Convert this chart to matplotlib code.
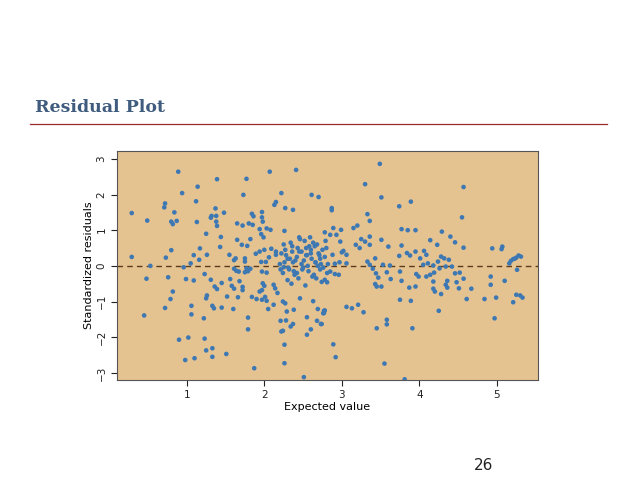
import matplotlib
matplotlib.use('Agg')
import matplotlib.pyplot as plt
import numpy as np

# residuals (expected value, standardized residual)
expected = [
    0.89, 0.29, 0.29, 0.49, 0.53, 0.48, 0.45, 0.71, 0.72, 0.84, 0.80, 0.82, 0.87, 0.94, 1.14, 1.12, 1.13,
    0.73, 0.80, 0.76, 0.82, 0.79, 0.72, 0.96, 0.99, 1.05, 1.09, 1.09, 1.16, 1.17, 1.25, 1.26, 1.06, 1.06,
    1.22, 0.90, 1.02, 1.23, 0.98, 1.10, 1.25, 1.33, 1.33, 1.51, 1.39, 1.37, 1.38, 1.32, 1.31, 1.38, 1.39,
    1.48, 1.44, 1.43, 1.23, 1.26, 1.25, 1.31, 1.36, 1.39, 1.45, 1.33, 1.35, 1.45, 1.52, 1.60, 1.66,
    1.55, 1.61, 1.63, 1.61, 1.64, 1.67, 1.75, 1.79, 1.82, 1.77, 1.56, 1.58, 1.61, 1.68, 1.72, 1.72,
    1.65, 1.65, 1.71, 1.72, 1.78, 1.80, 1.85, 1.82, 1.75, 1.75, 1.77, 1.73,
    1.84, 1.86, 1.97, 1.97, 1.94, 1.98, 2.03, 2.08, 1.96, 1.99, 1.89, 1.94, 2.00, 2.02, 1.96, 2.03,
    1.97, 1.98, 2.00, 1.97, 1.94, 1.97, 2.01, 1.90, 1.84, 1.79, 1.79, 1.87, 2.07, 2.22,
    2.15, 2.13, 2.27, 2.37, 2.09, 2.15, 2.15, 2.06, 2.12, 2.14, 2.17, 2.03, 2.12, 2.05,
    2.26, 2.25, 2.24, 2.27, 2.29, 2.38, 2.21, 2.28, 2.34, 2.37, 2.22, 2.24, 2.26, 2.26, 2.41, 2.51,
    2.61, 2.70, 2.46, 2.55, 2.55, 2.60, 2.63, 2.69, 2.73, 2.68, 2.78, 2.77,
    # dense cluster
    2.20, 2.24, 2.28, 2.32, 2.36, 2.40, 2.44, 2.48, 2.52, 2.56, 2.60, 2.64, 2.68, 2.72, 2.76, 2.80,
    2.22, 2.26, 2.30, 2.34, 2.38, 2.42, 2.46, 2.50, 2.54, 2.58, 2.62, 2.66, 2.70, 2.74, 2.78, 2.82,
    2.21, 2.27, 2.33, 2.39, 2.45, 2.51, 2.57, 2.63, 2.69, 2.75, 2.81,
    2.25, 2.31, 2.37, 2.43, 2.49, 2.55, 2.61, 2.67, 2.73, 2.79,
    2.30, 2.36, 2.42, 2.48, 2.54, 2.60, 2.66, 2.72,
    2.35, 2.45, 2.53, 2.59, 2.65, 2.71,
    # right half
    3.49, 3.30, 3.51, 4.57, 4.55, 3.74, 3.89, 2.87, 2.87, 3.33, 3.36, 3.15, 3.20,
    2.89, 2.99, 2.85, 2.93, 2.78, 2.98, 3.02, 3.00, 3.06, 2.88, 2.97, 2.91, 3.06,
    2.85, 2.91, 2.96, 2.78, 2.81, 2.77, 2.76, 2.74, 2.89, 2.92, 3.06, 3.13, 3.21, 3.28,
    3.18, 3.23, 3.25, 3.30, 3.36, 3.36, 3.51, 3.60, 3.77, 3.77, 3.85, 3.95,
    3.33, 3.36, 3.43, 3.40, 3.44, 3.47, 3.53, 3.62, 3.58, 3.63, 3.51, 3.43, 3.45,
    3.45, 3.58, 3.58, 3.55, 3.81, 3.91,
    3.75, 3.89, 3.87, 3.95, 3.77, 3.75, 3.74, 3.84, 3.88, 3.96, 3.99, 3.95, 4.01, 4.06, 4.09,
    4.14, 4.23, 4.29, 4.40, 4.46, 4.57,
    4.05, 4.11, 4.18, 4.24, 4.28, 4.32, 4.38, 4.34, 4.42, 4.26, 4.19, 4.14, 4.09, 4.18, 4.18, 4.20,
    4.34, 4.36, 4.36, 4.28, 4.25, 4.46, 4.52, 4.48, 4.51, 4.57, 4.61, 4.67,
    4.84, 4.92, 4.92, 4.99, 4.97, 5.10, 4.94, 5.06, 5.07,
    5.16, 5.18, 5.21, 5.25, 5.28, 5.31, 5.23, 5.26, 5.21, 5.25, 5.30, 5.33,
]
residual = [
    2.64, 1.48, 0.25, 1.27, 0.00, -0.36, -1.39, 1.64, 1.75, 1.50, 1.24, 1.17, 1.26, 2.04, 2.22, 1.81, 1.23,
    0.23, 0.44, -0.32, -0.72, -0.93, -1.18, -0.04, -0.37, 0.07, -0.41, 0.30, 0.17, 0.49, 0.90, 0.31, -1.12, -1.36,
    -1.47, -2.07, -2.01, -2.04, -2.64, -2.59, -2.37, -2.31, -2.55, -2.47, 2.43, 1.61, 1.40, 1.40, 1.35, 1.24, 1.12,
    1.49, 0.81, 0.53, -0.23, -0.83, -0.91, -0.39, -0.58, -0.65, -0.48, -1.12, -1.19, -1.17, -0.86, -1.21, -0.88,
    0.31, 0.16, 0.21, -0.08, -0.14, -0.16, -0.18, -0.15, -0.08, -0.07, -0.37, -0.56, -0.64, -0.43, -0.59, -0.68,
    1.19, 0.73, 0.59, 1.13, 0.56, 1.19, 1.15, 0.75, 0.12, 0.21, 2.44, 1.99,
    1.46, 1.39, 1.51, 1.36, 1.03, 1.24, 1.05, 1.01, 0.89, 0.80, 0.34, 0.40, 0.45, 0.11, 0.11, -0.19,
    -0.16, -0.49, -0.56, -0.68, -0.72, -0.95, -0.87, -0.93, -0.87, -1.45, -1.78, -2.87, 2.64, 2.04,
    1.79, 1.71, 1.62, 1.57, 0.48, 0.40, 0.31, 0.24, -0.53, -0.63, -0.76, -0.98, -1.09, -1.21,
    0.98, -0.04, -1.00, -1.05, -1.28, -1.23, -1.54, -1.53, -1.70, -1.63, -1.84, -1.82, -2.21, -2.73, 2.69, -3.12,
    1.99, 1.93, -0.91, -1.44, -1.93, -1.78, -0.99, -1.21, -1.63, -1.54, -1.25, -1.32,
    # dense cluster
    0.05, -0.20, 0.30, -0.10, 0.55, 0.15, -0.35, 0.40, 0.70, 0.00, 0.45, -0.25, 0.60, 0.20, -0.05, 0.50,
    0.35, 0.10, -0.40, 0.65, -0.15, 0.25, 0.75, -0.05, 0.30, 0.55, -0.30, 0.10, 0.35, -0.45, 0.25, 0.05,
    -0.10, 0.45, 0.20, -0.25, 0.40, 0.15, -0.15, 0.65, 0.00, 0.45, -0.20,
    0.60, -0.05, 0.10, 0.50, -0.10, 0.30, 0.20, -0.35, 0.05, 0.70,
    0.20, 0.40, -0.20, 0.05, 0.50, 0.35, 0.10, -0.10,
    -0.50, 0.80, -0.55, 0.80, 0.55, 0.30,
    # right half
    2.86, 2.29, 1.92, 2.21, 1.36, 1.67, 1.80, 1.62, 1.56, 1.45, 1.26, 1.06, 1.13,
    1.06, 1.01, 0.87, 0.87, 0.94, 0.68, 0.42, 0.38, 0.31, 0.31, 0.10, 0.06, 0.07,
    -0.16, -0.23, -0.25, -0.39, -0.46, -1.26, -1.33, -1.63, -2.20, -2.56, -1.15, -1.19, -1.09, -1.30,
    0.59, 0.50, 0.75, 0.68, 0.82, 0.59, 0.73, 0.54, 0.57, 1.03, 1.00, 1.00,
    0.12, 0.03, 0.21, -0.08, -0.21, -0.33, 0.03, 0.01, -0.18, -0.37, -0.58, -0.51, -0.58,
    -1.75, -1.51, -1.64, -2.74, -3.18, -1.75,
    -0.95, -0.98, -0.61, -0.58, -0.42, -0.16, 0.28, 0.36, 0.29, -0.23, -0.30, 0.40, 0.21, 0.42, 0.31,
    0.72, 0.59, 0.96, 0.82, 0.66, 0.51,
    0.03, 0.07, 0.01, 0.12, 0.26, 0.21, 0.17, -0.02, -0.02, -0.07, -0.19, -0.25, -0.30, -0.44, -0.64, -0.72,
    -0.53, -0.42, -0.61, -0.79, -1.26, -0.21, -0.19, -0.46, -0.63, -0.36, -0.93, -0.64,
    -0.93, -0.30, -0.53, -0.89, -1.47, -0.42, 0.49, 0.47, 0.54,
    0.07, 0.14, 0.19, 0.23, 0.29, 0.26, 0.20, -0.11, -1.02, -0.81, -0.83, -0.89,
]

x_ticks = [1, 2, 3, 4, 5]
y_ticks = [-3, -2, -1, 0, 1, 2, 3]

fig = plt.figure(figsize=(6.38, 4.79), dpi=100, facecolor='white')

# slide heading
fig.text(35 / 638, 1 - 107 / 479, 'Residual Plot', family='DejaVu Serif', fontweight='bold',
         fontsize=12.5, color='#3f5c7e', va='center', ha='left')
fig.add_artist(plt.Line2D([30 / 638, 607 / 638], [1 - 124 / 479] * 2, color='#9b2a2a', linewidth=0.9))
fig.text(484 / 638, 1 - 465 / 479, '26', fontsize=11, color='#222222', ha='center', va='center')

ax = fig.add_axes([117 / 638, 1 - 380 / 479, 421 / 638, 229 / 479])
ax.set_facecolor('#e5c391')
ax.scatter(expected, residual, s=11, color='#3d78b3', edgecolors='none', zorder=3)
ax.axhline(0, color='#5a3a1a', linestyle=(0, (4, 3)), linewidth=1.0, zorder=2)

ax.set_xlim(0.1, 5.53)
ax.set_ylim(-3.2, 3.22)
ax.set_xticks(x_ticks)
ax.set_yticks(y_ticks)
ax.tick_params(direction='out', length=4, labelsize=7.5, colors='#222222')
for lbl in ax.get_yticklabels():
    lbl.set_rotation(90)
    lbl.set_va('center')
for s in ax.spines.values():
    s.set_color('#555555')
ax.set_xlabel('Expected value', fontsize=8, labelpad=1)
ax.set_ylabel('Standardized residuals', fontsize=8, labelpad=2)

plt.savefig('out.png', dpi=100)
